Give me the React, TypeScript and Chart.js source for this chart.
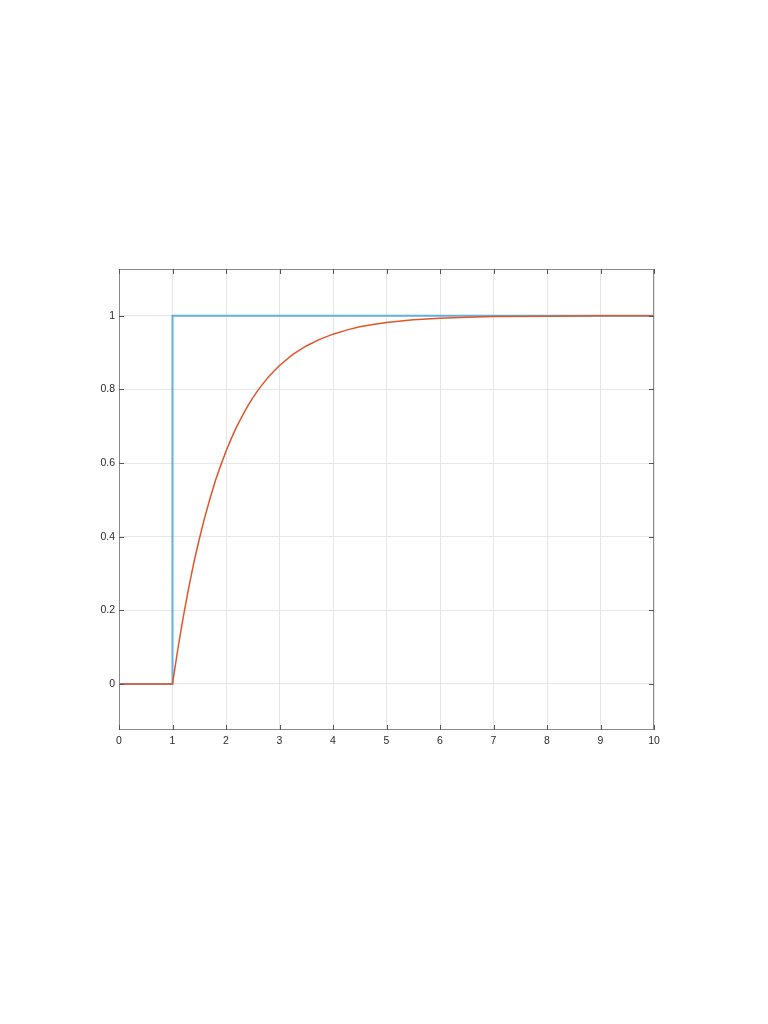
import React, { useEffect, useRef } from "react";
import { Chart, registerables } from "chart.js";

Chart.register(...registerables);

const stepX = [0, 1, 1, 10];
const stepY = [0, 0, 1, 1];

const respX = [0, 1, 1.1, 1.2, 1.3, 1.4, 1.5, 1.6, 1.7, 1.8, 1.9, 2, 2.1, 2.2, 2.3, 2.4, 2.5, 2.6, 2.7, 2.8, 2.9, 3, 3.25, 3.5, 3.75, 4, 4.25, 4.5, 4.75, 5, 5.5, 6, 6.5, 7, 8, 9, 10];
const respY = [0, 0, 0.095, 0.181, 0.259, 0.33, 0.393, 0.451, 0.503, 0.551, 0.593, 0.632, 0.667, 0.699, 0.727, 0.753, 0.777, 0.798, 0.817, 0.835, 0.85, 0.865, 0.895, 0.918, 0.936, 0.95, 0.961, 0.97, 0.976, 0.982, 0.989, 0.993, 0.996, 0.998, 0.999, 1.0, 1.0];

const xTicks = [0, 1, 2, 3, 4, 5, 6, 7, 8, 9, 10];
const yTicks = [0, 0.2, 0.4, 0.6, 0.8, 1];

const boxPlugin = {
  id: "boxTicks",
  afterDatasetsDraw(chart: any) {
    const { ctx, chartArea: a, scales } = chart;
    const xs = scales.x;
    const ys = scales.y;
    ctx.save();
    ctx.strokeStyle = "#8a8a8a";
    ctx.lineWidth = 1;
    ctx.strokeRect(a.left + 0.5, a.top + 0.5, a.right - a.left - 1, a.bottom - a.top - 1);
    ctx.strokeStyle = "#555";
    ctx.beginPath();
    const L = 5;
    xTicks.forEach((v) => {
      const px = Math.round(xs.getPixelForValue(v)) + 0.5;
      ctx.moveTo(px, a.bottom);
      ctx.lineTo(px, a.bottom - L);
      ctx.moveTo(px, a.top);
      ctx.lineTo(px, a.top + L);
    });
    yTicks.forEach((v) => {
      const py = Math.round(ys.getPixelForValue(v)) + 0.5;
      ctx.moveTo(a.left, py);
      ctx.lineTo(a.left + L, py);
      ctx.moveTo(a.right, py);
      ctx.lineTo(a.right - L, py);
    });
    ctx.stroke();
    ctx.restore();
  },
};

export default function App() {
  const ref = useRef<HTMLCanvasElement>(null);
  useEffect(() => {
    if (!ref.current) return;
    const chart = new Chart(ref.current, {
      type: "scatter",
      data: {
        datasets: [
          {
            data: respX.map((x, i) => ({ x, y: respY[i] })),
            showLine: true,
            borderColor: "#e0562a",
            borderWidth: 1.5,
            pointRadius: 0,
            tension: 0,
            order: 0,
          },
          {
            data: stepX.map((x, i) => ({ x, y: stepY[i] })),
            showLine: true,
            borderColor: "#62b0e0",
            borderWidth: 2,
            pointRadius: 0,
            order: 1,
          },
        ],
      },
      options: {
        animation: false,
        responsive: false,
        layout: { padding: { left: 0, top: 269, right: 114, bottom: 264 } },
        plugins: { legend: { display: false }, tooltip: { enabled: false } },
        scales: {
          x: {
            type: "linear",
            min: 0,
            max: 10,
            afterBuildTicks: (s: any) => {
              s.ticks = xTicks.map((v) => ({ value: v }));
            },
            afterFit: (s: any) => {
              s.height = 30;
            },
            grid: { color: "#e6e6e6", drawTicks: false },
            border: { display: false },
            ticks: {
              padding: 5,
              color: "#2b2b2b",
              font: { family: "Liberation Sans, Arial, sans-serif", size: 10.5 },
              callback: (v: any) => String(v),
              maxRotation: 0,
            },
          },
          y: {
            type: "linear",
            min: -0.125,
            max: 1.127,
            afterBuildTicks: (s: any) => {
              s.ticks = yTicks.map((v) => ({ value: v }));
            },
            afterFit: (s: any) => {
              s.width = 119;
            },
            grid: { color: "#e6e6e6", drawTicks: false },
            border: { display: false },
            ticks: {
              padding: 4,
              color: "#2b2b2b",
              font: { family: "Liberation Sans, Arial, sans-serif", size: 10.5 },
              callback: (v: any) => String(Math.round(v * 10) / 10),
            },
          },
        },
      },
      plugins: [boxPlugin],
    } as any);
    return () => chart.destroy();
  }, []);
  return (
    <canvas
      ref={ref}
      width={768}
      height={1024}
      style={{ position: "fixed", left: 0, top: 0, width: 768, height: 1024 }}
    />
  );
}
